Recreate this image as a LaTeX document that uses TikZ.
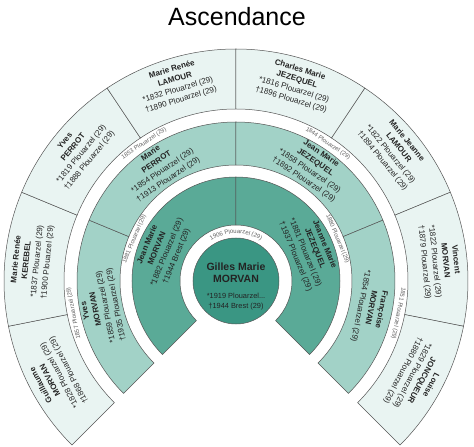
\documentclass[tikz,border=0pt]{standalone}
\usepackage{fontspec}
\setmainfont{Liberation Sans}
\usetikzlibrary{decorations.text}
\definecolor{fanline}{RGB}{85,85,85}
\definecolor{fangen1}{RGB}{58,150,131}
\definecolor{fangen2}{RGB}{90,170,151}
\definecolor{fangen3}{RGB}{162,210,199}
\definecolor{fangen4}{RGB}{233,244,242}
\definecolor{fantext}{RGB}{35,35,35}
\definecolor{fanwed}{RGB}{95,95,95}

% annular sector: start angle, end angle, inner r, outer r, style
\newcommand{\fansector}[5]{%
  \draw[#5] (#1:#3pt) arc[start angle=#1, end angle=#2, radius=#3pt]
    -- (#2:#4pt) arc[start angle=#2, end angle=#1, radius=#4pt] -- cycle;}
\newcommand{\nm}[1]{\textbf{#1}}
\newcommand{\bignm}[1]{{\fontsize{10.5}{13}\selectfont\bfseries #1}}

\begin{document}
\begin{tikzpicture}[
    ring/.style={draw=fanline,line width=0.5pt},
    gen1/.style={ring,fill=fangen1},
    gen2/.style={ring,fill=fangen2},
    gen3/.style={ring,fill=fangen3},
    gen4/.style={ring,fill=fangen4},
    person/.style={align=center,inner sep=0pt,text=fantext,
      font=\fontsize{8}{10.5}\selectfont},
    centre/.style={align=center,inner sep=0pt,text=fantext,
      font=\fontsize{7.4}{10}\selectfont},
    wedding/.style={inner sep=0pt,text=fanwed,font=\fontsize{6}{7}\selectfont}]
  \useasboundingbox (-236pt,-166pt) rectangle (238pt,281pt);
  \node[font=\fontsize{25}{30}\selectfont] (title) at (1pt,264pt) {Ascendance};

  %% outer ring, 8 great-grandparents
  \foreach \a in {225,191.25,157.5,123.75,90,56.25,22.5,-11.25}
    {\fansector{\a}{\a-33.75}{172}{232}{gen4}}
  %% grandparents
  \foreach \a in {225,157.5,90,22.5}
    {\fansector{\a}{\a-67.5}{116}{159}{gen3}}
  %% parents
  \foreach \a in {225,90}
    {\fansector{\a}{\a-135}{56}{104}{gen2}}
  %% subject
  \draw[gen1] (0,0) circle[radius=43pt];

  %% marriages
  \path[decorate,decoration={text along path,text align=center,
      text={|\fontsize{6}{7}\selectfont\color{fanwed}|1906 Plouarzel (29)}}]
    (150:47.5pt) arc[start angle=150, end angle=30, radius=47.5pt];
  \node[wedding,rotate=67.5] (w1881) at (157.5:110pt) {1881 Plouarzel (29)};
  \node[wedding,rotate=-67.5] (w1880) at (22.5:110pt) {1880 Plouarzel (29)};
  \node[wedding,rotate=101.25] (w1857) at (191.25:165.5pt) {1857 Plouarzel (29)};
  \node[wedding,rotate=33.75] (w1853) at (123.75:165.5pt) {1853 Plouarzel (29)};
  \node[wedding,rotate=-33.75] (w1844) at (56.25:165.5pt) {1844 Plouarzel (29)};
  \node[wedding,rotate=-101.25] (w1851) at (-11.25:165.5pt) {1851 Plouarzel (29)};

  %% people
  \node[centre] (gilles) at (0,-5pt)
    {\bignm{Gilles Marie}\\[2pt]\bignm{MORVAN}\\[6pt]
     *1919 Plouarzel...\\†1944 Brest (29)};
  \node[person,rotate=67.5] (jeanmarie) at (157.5:80pt)
    {\nm{Jean Marie}\\\nm{MORVAN}\\*1882 Plouarzel (29)\\†1944 Brest (29)};
  \node[person,rotate=-67.5] (jeanne) at (22.5:80pt)
    {\nm{Jeanne Marie}\\\nm{JEZEQUEL}\\*1881 Plouarzel (29)\\†1937 Plouarzel (29)};
  \node[person,rotate=101.25] (yves) at (191.25:137.5pt)
    {\nm{Yves}\\\nm{MORVAN}\\*1859 Plouarzel (29)\\†1935 Plouarzel (29)};
  \node[person,rotate=33.75] (marie) at (123.75:137.5pt)
    {\nm{Marie}\\\nm{PERROT}\\*1854 Plouarzel (29)\\†1913 Plouarzel (29)};
  \node[person,rotate=-33.75] (jeanjez) at (56.25:137.5pt)
    {\nm{Jean Marie}\\\nm{JEZEQUEL}\\*1858 Plouarzel (29)\\†1892 Plouarzel (29)};
  \node[person,rotate=-101.25] (francoise) at (-11.25:137.5pt)
    {\nm{Françoise}\\\nm{MORVAN}\\*1854 Plouarzel (29)};
  \node[person,rotate=118.125] (guillaume) at (208.125:205pt)
    {\nm{Guillaume}\\\nm{MORVAN}\\*1828 Plouarzel (29)\\†1868 Plouarzel (29)};
  \node[person,rotate=84.375] (kerebel) at (174.375:205pt)
    {\nm{Marie Renée}\\\nm{KEREBEL}\\*1837 Plouarzel (29)\\†1900 Plouarzel (29)};
  \node[person,rotate=50.625] (perrot) at (140.625:205pt)
    {\nm{Yves}\\\nm{PERROT}\\*1819 Plouarzel (29)\\†1888 Plouarzel (29)};
  \node[person,rotate=16.875] (lamour) at (106.875:205pt)
    {\nm{Marie Renée}\\\nm{LAMOUR}\\*1832 Plouarzel (29)\\†1890 Plouarzel (29)};
  \node[person,rotate=-16.875] (charles) at (73.125:205pt)
    {\nm{Charles Marie}\\\nm{JEZEQUEL}\\*1816 Plouarzel (29)\\†1896 Plouarzel (29)};
  \node[person,rotate=-50.625] (mjeanne) at (39.375:205pt)
    {\nm{Marie Jeanne}\\\nm{LAMOUR}\\*1822 Plouarzel (29)\\†1894 Plouarzel (29)};
  \node[person,rotate=-84.375] (vincent) at (5.625:205pt)
    {\nm{Vincent}\\\nm{MORVAN}\\*1822 Plouarzel (29)\\†1879 Plouarzel (29)};
  \node[person,rotate=-118.125] (louise) at (-28.125:205pt)
    {\nm{Louise}\\\nm{JONCQUEUR}\\*1829 Plouarzel (29)\\†1880 Plouarzel (29)};
\end{tikzpicture}
\end{document}
